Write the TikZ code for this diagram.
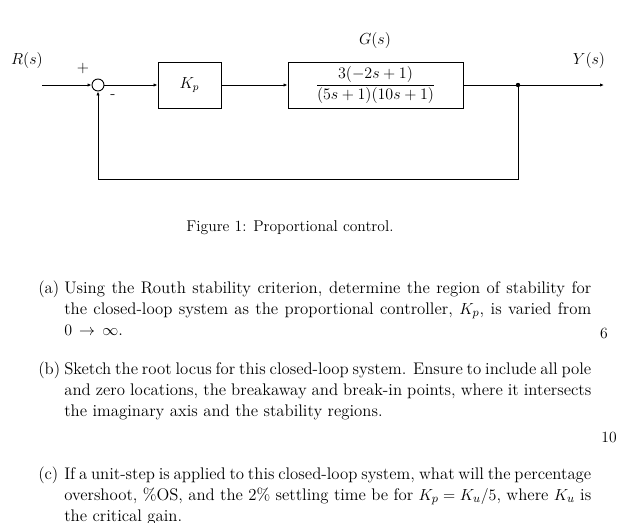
\documentclass[tikz,border=0pt]{standalone}
\usepackage{amsmath}
\usetikzlibrary{arrows.meta}
\begin{document}
\begin{tikzpicture}[x=0.75pt,y=-0.75pt,
  every node/.style={font=\fontsize{11.7}{14}\selectfont},
  blk/.style={draw,line width=0.7pt,inner sep=0pt},
  wire/.style={line width=0.7pt},
  arr/.style={wire,-{Latex[length=3pt,width=2.5pt]}},
  body/.style={anchor=north west,text width=527*0.75pt,align=justify,inner sep=0pt,font=\fontsize{12.6}{15.75}\selectfont},
  lbl/.style={anchor=north west,inner sep=0pt,font=\fontsize{12.6}{15.75}\selectfont}]
\useasboundingbox (0,0) rectangle (638,522);
\node (R) at (27,60) {$R(s)$};
\coordinate (in) at (42,85);
\node[draw,circle,line width=0.7pt,minimum size=12*0.75pt,inner sep=0pt] (sum) at (98,85) {};
\node at (83,68) {$+$};
\node at (113,97) {-};
\node[blk,minimum width=63*0.75pt,minimum height=46*0.75pt] (kp) at (189.5,85) {$K_p$};
\node[blk,minimum width=175*0.75pt,minimum height=46*0.75pt] (g) at (375.5,85) {$\dfrac{3(-2s+1)}{(5s+1)(10s+1)}$};
\node at (375,40) {$G(s)$};
\node (Y) at (589,60) {$Y(s)$};
\coordinate (out) at (604,85);
\coordinate (dot) at (518,85);
\coordinate (c1) at (518,179);
\coordinate (c2) at (98,179);
\draw[arr] (in) -- (sum.west);
\draw[arr] (sum.east) -- (kp.west);
\draw[arr] (kp.east) -- (g.west);
\draw[arr] (g.east) -- (out);
\fill (dot) circle (2.2);
\draw[arr] (dot) -- (c1) -- (c2) -- (sum.south);
\node (cap) at (290,228) {Figure 1: Proportional control.};
\node[lbl] (la) at (38,281) {(a)};
\node[body] (ta) at (64,281) {Using the Routh stability criterion, determine the region of stability for the closed-loop system as the proportional controller, $K_p$, is varied from $0\,\to\,\infty$.};
\node (ma) at (604,333) {6};
\node[lbl] (lb) at (38,362) {(b)};
\node[body] (tb) at (64,362) {Sketch the root locus for this closed-loop system. Ensure to include all pole and zero locations, the breakaway and break-in points, where it intersects the imaginary axis and the stability regions.};
\node (mb) at (609,437) {10};
\node[lbl] (lc) at (38,467) {(c)};
\node[body] (tc) at (64,467) {If a unit-step is applied to this closed-loop system, what will the percentage overshoot, \%OS, and the 2\% settling time be for $K_p=K_u/5$, where $K_u$ is the critical gain.};
\end{tikzpicture}
\end{document}
